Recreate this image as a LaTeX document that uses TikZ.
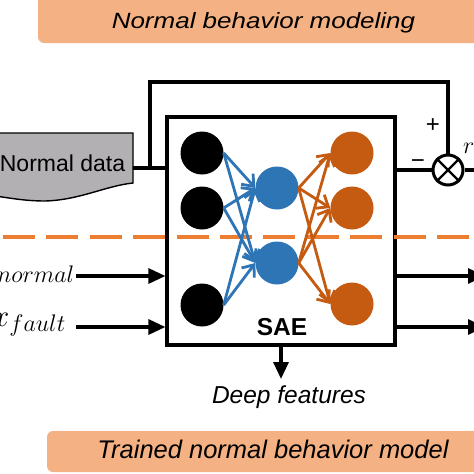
\RequirePackage{fix-cm}
\documentclass[tikz,border=0pt]{standalone}
\usepackage{fontspec}
\setmainfont{Liberation Sans}
\usetikzlibrary{arrows.meta,calc}
\DeclareMathSizes{31}{31}{24}{18}
\definecolor{banner}{RGB}{244,177,131}
\definecolor{nblue}{RGB}{46,117,182}
\definecolor{norange}{RGB}{197,90,17}
\definecolor{dashor}{RGB}{237,125,49}
\definecolor{datagray}{RGB}{178,176,178}
\begin{document}
\begin{tikzpicture}[x=1pt,y=-1pt,
  bannertext/.style={font=\fontsize{26}{30}\selectfont\itshape,inner sep=0pt,anchor=base},
  conn/.style={line width=3.2pt},
  arr/.style={conn,-{Triangle[length=17pt,width=15pt]}},
  neuron/.style={circle,minimum size=43pt,inner sep=0pt},
  blk/.style={neuron,fill=black},
  hid/.style={neuron,fill=nblue},
  outn/.style={neuron,fill=norange},
  barrow/.style={nblue,line width=2.8pt,-{Straight Barb[length=10pt,width=16pt]}},
  oarrow/.style={norange,line width=2.8pt,-{Straight Barb[length=10pt,width=16pt]}},
  lbl/.style={inner sep=0pt}
]
\useasboundingbox (0,0) rectangle (474,474);
% banners
\fill[banner,rounded corners=6pt] (38,-8) rectangle (490,43);
\node[bannertext] (toptxt) at (263.5,28.5) {\scalebox{1}[0.85]{Normal behavior modeling}};
\fill[banner,rounded corners=6pt] (47,431) rectangle (490,472);
\node[bannertext,font=\fontsize{25.5}{30}\selectfont\itshape] (bottxt) at (273,458) {Trained normal behavior model};

% normal data shape
\filldraw[fill=datagray,draw=black,line width=1.4pt]
  (-5,133) -- (133,133) -- (133,183)
  .. controls (105,186) and (80,200) .. (45,201)
  .. controls (25,201) and (10,198) .. (-5,196) -- cycle;
\node[lbl,font=\fontsize{23}{27}\selectfont] (data) at (62.5,163) {Normal data};
\coordinate (dataout) at (133,168);
\coordinate (jn) at (150,168);
\coordinate (fbl) at (150,82);
\coordinate (fbr) at (448,82);

% SAE box
\node[draw,line width=3.2pt,fill=white,minimum width=228pt,minimum height=228pt,inner sep=0pt] (sae) at (281,231) {};

% dashed separator
\draw[dashor,line width=3.2pt,dash pattern=on 32pt off 11.4pt] (3,237) -- (480,237);

% neurons
\node[blk] (i1) at (202,153) {};
\node[blk] (i2) at (202,208) {};
\node[blk] (i3) at (202,305) {};
\node[hid] (h1) at (277,188) {};
\node[hid] (h2) at (277,263) {};
\node[outn] (o1) at (352,153) {};
\node[outn] (o2) at (352,208) {};
\node[outn] (o3) at (352,304) {};
\foreach \i in {i1,i2,i3}{\foreach \h in {h1,h2}{\draw[barrow] (\i.east) -- (\h.west);}}
\foreach \h in {h1,h2}{\foreach \o in {o1,o2,o3}{\draw[oarrow] (\h.east) -- (\o.west);}}
\node[lbl,font=\fontsize{24.5}{28}\selectfont\bfseries] (saelbl) at (282,327) {SAE};

% data line and feedback
\draw[conn] (dataout) -- (sae.west |- dataout);
\node[circle,draw,line width=3pt,minimum width=30pt,inner sep=0pt] (mult) at (448,170) {};
\draw[line width=2.4pt] (mult.north west) -- (mult.south east);
\draw[line width=2.4pt] (mult.north east) -- (mult.south west);
\draw[conn] (jn) -- (fbl) -- (fbr) -- (mult.north);
\draw[conn] (sae.east |- mult) -- (mult.west);
\coordinate (rout) at (480,170);
\draw[conn] (mult.east) -- (rout);
\node[lbl,font=\fontsize{24}{28}\selectfont] (plus) at (433,126) {+};
\node[lbl,font=\fontsize{24}{28}\selectfont] (minus) at (418,164) {−};
\node[lbl,anchor=west,font=\fontsize{24}{28}\selectfont] (rl) at (463,148) {$r$};

% inputs
\coordinate (in1) at (76,276);
\coordinate (in2) at (76,327);
\draw[arr] (in1) -- (sae.west |- in1);
\draw[arr] (in2) -- (sae.west |- in2);
\node[lbl,anchor=base east,font=\fontsize{31}{36}\selectfont] (xn) at (75,277) {$x_{normal}$};
\node[lbl,anchor=base east,font=\fontsize{31}{36}\selectfont] (xf) at (66,326) {$x_{fault}$};

% outputs
\coordinate (out1) at (485,276);
\coordinate (out2) at (485,327);
\draw[arr] (sae.east |- out1) -- (out1);
\draw[arr] (sae.east |- out2) -- (out2);

% deep features
\coordinate (dfend) at (281,379);
\draw[arr] (sae.south) -- (dfend);
\node[lbl,font=\fontsize{24.5}{28}\selectfont\itshape] (df) at (289,397) {Deep features};
\end{tikzpicture}
\end{document}
